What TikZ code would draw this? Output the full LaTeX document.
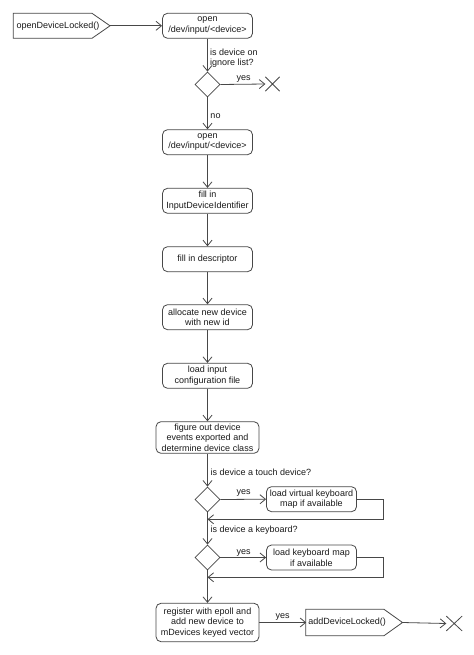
\documentclass[tikz,border=0pt]{standalone}
\usepackage{fontspec}
\setmainfont{Liberation Sans}
\usetikzlibrary{arrows.meta,shapes.geometric,shapes.misc}
\definecolor{linec}{HTML}{484848}
\definecolor{txt}{HTML}{1A1A1A}
\begin{document}
\begin{tikzpicture}[x=1bp,y=-1bp,
  font=\fontsize{9bp}{10.6bp}\selectfont,
  line/.style={draw=linec, line width=0.8bp},
  arr/.style={line, -{Straight Barb[length=5.5bp,width=9bp]}},
  act/.style={line, rectangle, rounded corners=5bp, minimum width=90bp, minimum height=25bp, inner sep=0pt, align=center, text=txt},
  wideact/.style={act, minimum width=103bp},
  dec/.style={line, diamond, minimum width=25bp, minimum height=25bp, inner sep=0pt},
  fin/.style={line, cross out, minimum width=13.5bp, minimum height=13.5bp, inner sep=0pt},
  lab/.style={text=txt, inner sep=0pt, align=left}
]
\useasboundingbox (0,0) rectangle (474,655);
\fill[white] (0,0) rectangle (474,655);

% start signal
\coordinate (s1tip) at (110,25.8);
\draw[line] (13.3,13.3) -- (92,13.3) -- (s1tip) -- (92,38.3) -- (13.3,38.3) -- cycle;
\node[lab] (s1) at (58,25.8) {openDeviceLocked()};

\node[act] (b1) at (207.5,25.8) {open\\/dev/input/<device>};
\node[dec] (d1) at (207.5,84.5) {};
\node[fin] (x1) at (272.5,84) {};
\node[act] (b2) at (207.5,142.2) {open\\/dev/input/<device>};
\node[act] (b3) at (207.5,200.8) {fill in\\InputDeviceIdentifier};
\node[act] (b4) at (207.5,259.2) {fill in descriptor};
\node[act] (b5) at (207.5,317.2) {allocate new device\\with new id};
\node[act] (b6) at (207.5,375.8) {load input\\configuration file};
\node[wideact, minimum height=31.6bp] (b7) at (207.5,437.5) {figure out device\\events exported and\\determine device class};
\node[dec] (d2) at (207.5,499.5) {};
\node[act] (vk) at (311.5,499.2) {load virtual keyboard\\map if available};
\coordinate (m1) at (207.5,519.3);
\node[dec] (d3) at (207.5,557.5) {};
\node[act] (kb) at (311.5,557.5) {load keyboard map\\if available};
\coordinate (m2) at (207.5,577.3);
\node[wideact, minimum height=38.4bp] (b8) at (207.5,622.5) {register with epoll and\\add new device to\\mDevices keyed vector};

% end signal
\coordinate (s2tip) at (402.5,622.5);
\draw[line] (305.7,609.3) -- (384,609.3) -- (s2tip) -- (384,635.7) -- (305.7,635.7) -- cycle;
\node[lab, inner xsep=2bp] (s2) at (347.2,622.5) {addDeviceLocked()};
\node[fin, minimum width=15bp, minimum height=14bp] (x2) at (454.2,623.5) {};

\draw[arr] (s1tip) -- (b1.west);
\draw[arr] (b1.south) -- (d1.north);
\draw[arr] (d1.east) -- (x1.west);
\draw[arr] (d1.south) -- (b2.north);
\draw[arr] (b2.south) -- (b3.north);
\draw[arr] (b3.south) -- (b4.north);
\draw[arr] (b4.south) -- (b5.north);
\draw[arr] (b5.south) -- (b6.north);
\draw[arr] (b6.south) -- (b7.north);
\draw[arr] (b7.south) -- (d2.north);
\draw[arr] (d2.east) -- (vk.west);
\draw[arr] (vk.east) -- ++(26.5,0) |- (m1);
\draw[arr] (d2.south) -- (d3.north);
\draw[arr] (d3.east) -- (kb.west);
\draw[arr] (kb.east) -- ++(26.5,0) |- (m2);
\draw[arr] (d3.south) -- (b8.north);
\draw[arr] (b8.east) -- (s2.west);
\draw[arr] (s2tip) -- (x2.west);

\node[lab, anchor=west] (l1) at (210,58) {is device on\\ignore list?};
\node[lab] (y1) at (243.5,79.5) {yes};
\node[lab] (n1) at (215.5,115.7) {no};
\node[lab, anchor=west] (l2) at (210.5,472.7) {is device a touch device?};
\node[lab] (y2) at (243.5,493.3) {yes};
\node[lab, anchor=west] (l3) at (210.5,530) {is device a keyboard?};
\node[lab] (y3) at (243.5,553.3) {yes};
\node[lab] (y4) at (282.5,617.3) {yes};
\end{tikzpicture}
\end{document}
